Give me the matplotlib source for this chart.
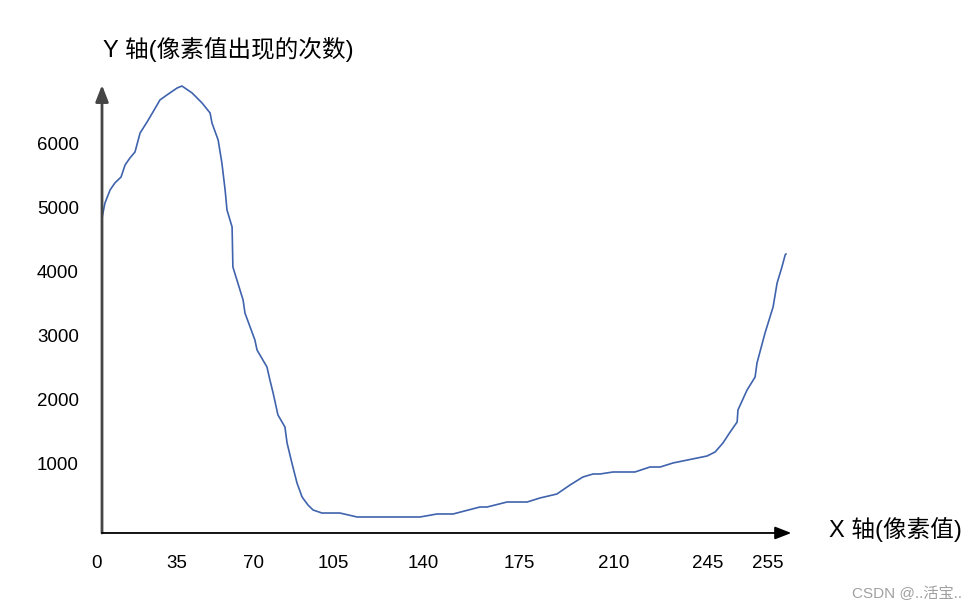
import numpy as np
import matplotlib
matplotlib.use("Agg")
import matplotlib.pyplot as plt

# grey level vs count
gray = [0, 1.1, 3.0, 4.8, 7.1, 8.6, 10.4, 12.3, 14.2, 16.8, 19.0, 21.6, 24.2, 28.0, 29.8,
        33.6, 37.3, 40.3, 41.0, 43.3, 44.7, 45.9, 46.6, 48.5, 48.8, 52.6, 53.3, 57.0, 57.8,
        61.5, 62.6, 63.8, 65.6, 68.2, 69.0, 70.8, 72.7, 74.6, 76.8, 78.7, 82.0, 88.7, 95.1,
        118.6, 124.9, 130.9, 140.9, 143.6, 151.0, 158.5, 163.3, 169.6, 174.5, 179.3, 183.1,
        185.7, 190.5, 198.7, 204.3, 208.1, 212.9, 225.6, 228.6, 231.5, 234.2, 236.8, 237.1,
        240.5, 243.5, 244.2, 247.2, 250.2, 251.7, 253.5, 254.7, 255]
count = [4844, 5078, 5281, 5391, 5484, 5672, 5781, 5875, 6172, 6344, 6500, 6688, 6766, 6875, 6906,
         6797, 6641, 6484, 6328, 6063, 5703, 5281, 4969, 4703, 4078, 3563, 3359, 2938, 2781,
         2516, 2313, 2109, 1766, 1578, 1328, 1016, 703, 484, 359, 281, 234, 234, 172,
         172, 219, 219, 328, 328, 406, 406, 469, 531, 672, 797, 844,
         844, 875, 875, 953, 953, 1016, 1125, 1188, 1328, 1500, 1656, 1844,
         2156, 2359, 2578, 3047, 3453, 3828, 4078, 4266, 4281]

xlabels = ["0", "35", "70", "105", "140", "175", "210", "245", "255"]
xlabel_pos = [-2.2, 28.0, 56.3, 86.1, 119.7, 155.5, 190.6, 225.7, 248.1]
yticks = [1000, 2000, 3000, 4000, 5000, 6000]

fam = ['Liberation Sans', 'Noto Sans CJK SC', 'DejaVu Sans']
plt.rcParams['font.family'] = fam

fig = plt.figure(figsize=(9.78, 6.11), dpi=100)
ax = fig.add_axes([0, 0, 1, 1])
ax.set_xlim(-38.03, 326.6)
ax.set_ylim(-1297, 8250)
ax.axis('off')

ax.plot(gray, count, color='#3f63ad', lw=1.2, solid_joinstyle='round')

# axes with arrow heads
ax.annotate('', xy=(0, 6922), xytext=(0, -78),
            arrowprops=dict(arrowstyle='-|>,head_length=0.9,head_width=0.35',
                            color='#454545', lw=2, shrinkA=0, shrinkB=0, mutation_scale=11))
ax.annotate('', xy=(257, -78), xytext=(0, -78),
            arrowprops=dict(arrowstyle='-|>,head_length=0.9,head_width=0.35',
                            color='black', lw=1.3, shrinkA=0, shrinkB=0, mutation_scale=11))

for lab, p in zip(xlabels, xlabel_pos):
    ax.text(p, -562, lab, ha='center', va='center', fontsize=13.5)
for v in yticks:
    ax.text(-8.6, v - 16, str(v), ha='right', va='center', fontsize=13.5)

ax.text(0.4, 7470, "Y 轴(像素值出现的次数)", ha='left', va='center', fontsize=17)
ax.text(271, -31, "X 轴(像素值)", ha='left', va='center', fontsize=17)

fig.text(852 / 978, 1 - 594 / 611, "CSDN @..活宝..", ha='left', va='center',
         fontsize=11, color='#a0a0a0')

fig.savefig("out.png", dpi=100)
